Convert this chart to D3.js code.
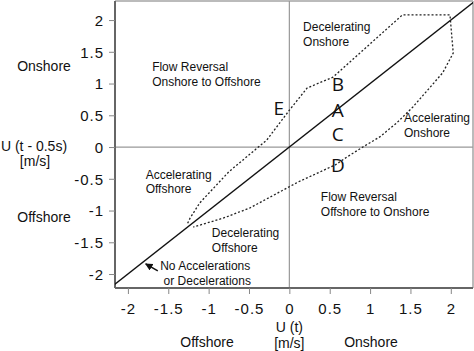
<!DOCTYPE html>
<html>
<head>
<meta charset="utf-8">
<script src="https://cdn.jsdelivr.net/npm/d3@7"></script>
<style>
  body { margin: 0; background: #fff; }
  svg { display: block; }
  text { font-family: "Liberation Sans", Arial, sans-serif; fill: #111; }
</style>
</head>
<body>
<svg id="chart" width="474" height="351"></svg>
<script>
// tick values on both axes
const xTicks = [-2, -1.5, -1, -0.5, 0, 0.5, 1, 1.5, 2];
const yTicks = [-2, -1.5, -1, -0.5, 0, 0.5, 1, 1.5, 2];

// no-acceleration line U(t) = U(t - 0.5s)
const diagX = [-2.3, 2.3];

// dashed envelope of observed states [U(t), U(t-0.5s)]
const envelopeX = [-1.26, -1.23, -1.11, -0.75, -0.28, 0.0, 0.22, 0.54, 1.40, 1.99, 2.03, 1.90, 1.53, 1.33, 1.12, 0.91, 0.71, 0.57, 0.11, -0.49, -0.82, -1.19];
const envelopeY = [-1.20, -1.12, -0.88, -0.39, 0.11, 0.58, 0.93, 1.10, 2.08, 2.08, 1.48, 1.17, 0.63, 0.38, 0.16, 0.0, -0.16, -0.28, -0.55, -0.96, -1.12, -1.26];

// region labels, anchored at data coordinates
const regionText = [
    ['Decelerating', 'Onshore'],
    ['Flow Reversal', 'Onshore to Offshore'],
    ['Accelerating', 'Onshore'],
    ['Accelerating', 'Offshore'],
    ['Flow Reversal', 'Offshore to Onshore'],
    ['Decelerating', 'Offshore'],
    ['No Accelerations', ' or Decelerations']
];
const regionX = [0.17, -1.70, 1.42, -1.78, 0.39, -0.96, -1.60];
const regionY = [1.82, 1.19, 0.39, -0.50, -0.85, -1.42, -1.94];

const letters = ['B', 'A', 'C', 'D', 'E'];
const letterX = [0.60, 0.60, 0.60, 0.60, -0.13];
const letterY = [0.88, 0.47, 0.09, -0.39, 0.50];

const svg = d3.select('#chart');
const margin = {left: 115, right: 1, top: 1, bottom: 63};
const width = 474 - margin.left - margin.right;
const height = 351 - margin.top - margin.bottom;

const x = d3.scaleLinear().domain([-2.16, 2.275]).range([0, width]);
const y = d3.scaleLinear().domain([-2.22, 2.3]).range([height, 0]);

const g = svg.append('g').attr('transform', `translate(${margin.left},${margin.top})`);

g.append('defs').append('clipPath').attr('id', 'clip')
    .append('rect').attr('width', width).attr('height', height);

g.append('defs').append('marker')
    .attr('id', 'arrow')
    .attr('viewBox', '0 -5 10 10')
    .attr('refX', 9).attr('refY', 0)
    .attr('markerWidth', 5).attr('markerHeight', 5)
    .attr('orient', 'auto')
    .append('path').attr('d', 'M0,-5L10,0L0,5Z').attr('fill', '#111');

// frame: light top/right, darker left/bottom
g.append('line').attr('x1', 0).attr('x2', width).attr('y1', 0).attr('y2', 0)
    .attr('stroke', '#bbb').attr('stroke-width', 2);
g.append('line').attr('x1', width).attr('x2', width).attr('y1', 0).attr('y2', height)
    .attr('stroke', '#bbb').attr('stroke-width', 2);

// zero lines
g.append('line').attr('x1', x(0)).attr('x2', x(0)).attr('y1', 0).attr('y2', height)
    .attr('stroke', '#999').attr('stroke-width', 1.2);
g.append('line').attr('x1', 0).attr('x2', width).attr('y1', y(0)).attr('y2', y(0))
    .attr('stroke', '#999').attr('stroke-width', 1.2);

// axes
const fmt = d => String(d);
const xAxis = g.append('g').attr('transform', `translate(0,${height})`)
    .call(d3.axisBottom(x).tickValues(xTicks).tickSize(6).tickPadding(5).tickFormat(fmt));
const yAxis = g.append('g')
    .call(d3.axisLeft(y).tickValues(yTicks).tickSize(6).tickPadding(6).tickFormat(fmt));

[xAxis, yAxis].forEach(a => {
    a.select('.domain').attr('stroke', '#666').attr('stroke-width', 2);
    a.selectAll('.tick line').attr('stroke', '#888').attr('stroke-width', 1);
    a.selectAll('.tick text')
        .style('font-family', '"Liberation Sans", Arial, sans-serif')
        .style('font-size', '15px')
        .style('letter-spacing', '1px')
        .attr('fill', '#111');
});
xAxis.selectAll('.domain').attr('d', `M0,0H${width}`);
yAxis.selectAll('.domain').attr('d', `M0,0V${height}`);
xAxis.selectAll('.tick text').attr('dy', '1.0em');
yAxis.selectAll('.tick text').attr('x', -11).attr('dy', '0.36em');

const plot = g.append('g').attr('clip-path', 'url(#clip)');

// diagonal
plot.append('path')
    .datum(diagX)
    .attr('d', d3.line().x(d => x(d)).y(d => y(d)))
    .attr('fill', 'none')
    .attr('stroke', '#111')
    .attr('stroke-width', 1.4);

// dashed envelope
const envelope = envelopeX.map((v, i) => [v, envelopeY[i]]);
plot.append('path')
    .datum(envelope)
    .attr('d', d3.line().x(d => x(d[0])).y(d => y(d[1])))
    .attr('fill', 'none')
    .attr('stroke', '#222')
    .attr('stroke-width', 1.3)
    .attr('stroke-dasharray', '2,2');

// region labels
regionText.forEach((lines, i) => {
    const t = g.append('text')
        .attr('x', x(regionX[i]))
        .attr('y', y(regionY[i]))
        .style('font-size', '12px')
        .attr('fill', '#222');
    lines.forEach((s, j) => {
        t.append('tspan')
            .attr('x', x(regionX[i]))
            .attr('dy', j === 0 ? 0 : 14.5)
            .attr('xml:space', 'preserve')
            .style('white-space', 'pre')
            .text(s);
    });
});

// arrow to the diagonal
g.append('line')
    .attr('x1', x(-1.63)).attr('y1', y(-1.95))
    .attr('x2', x(-1.78)).attr('y2', y(-1.84))
    .attr('stroke', '#111').attr('stroke-width', 1.5)
    .attr('marker-end', 'url(#arrow)');

// letter markers
letters.forEach((l, i) => {
    g.append('text')
        .attr('x', x(letterX[i]))
        .attr('y', y(letterY[i]))
        .attr('text-anchor', 'middle')
        .style('font-family', '"Open Sans", "DejaVu Sans", sans-serif')
        .style('font-size', '19px')
        .attr('fill', '#111')
        .text(l);
});

// axis titles
const side = svg.append('g').style('font-size', '14px').attr('text-anchor', 'middle');
side.append('text').attr('x', 44).attr('y', 71).text('Onshore');
side.append('text').attr('x', 34).attr('y', 151).text('U (t - 0.5s)');
side.append('text').attr('x', 35).attr('y', 166).text('[m/s]');
side.append('text').attr('x', 44).attr('y', 222).text('Offshore');

side.append('text').attr('x', margin.left + x(0)).attr('y', 332).text('U (t)');
side.append('text').attr('x', margin.left + x(0)).attr('y', 348).text('[m/s]');
side.append('text').attr('x', 207).attr('y', 347).text('Offshore');
side.append('text').attr('x', 371).attr('y', 347).text('Onshore');
</script>
</body>
</html>
